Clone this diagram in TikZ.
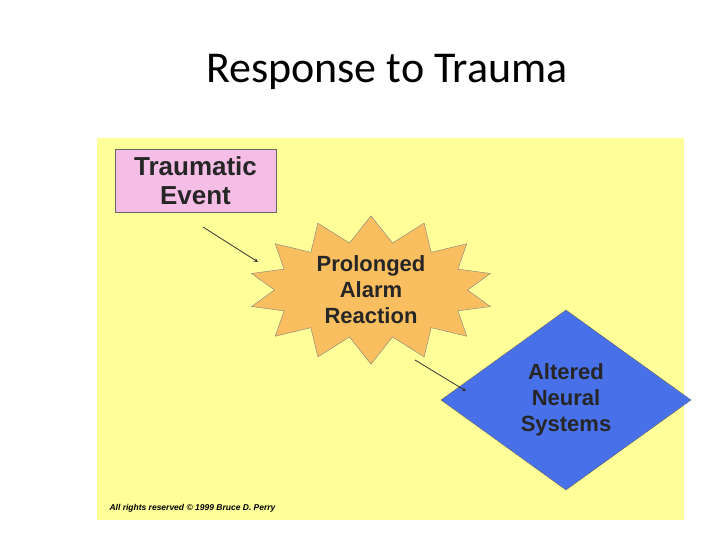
\documentclass[tikz,border=0pt]{standalone}
\usepackage{fontspec}
\setmainfont{Liberation Sans}
\newfontfamily\titlefont{Carlito}
\usetikzlibrary{shapes.geometric,shapes.symbols,arrows}
\definecolor{panel}{RGB}{255,255,153}
\definecolor{pinkbox}{RGB}{245,190,230}
\definecolor{alarm}{RGB}{248,190,95}
\definecolor{neural}{RGB}{72,112,232}
\tikzset{
  lbl/.style={font=\bfseries\fontsize{22}{26}\selectfont, text=black!85, align=center},
  link/.style={->, >=stealth, thick, black!80}
}
\begin{document}
\begin{tikzpicture}[x=1pt, y=-1pt]
        \useasboundingbox (0, 0) rectangle (720, 540);
        \node (title) at (387, 72) {\titlefont\fontsize{44}{50}\selectfont Response to Trauma};
        \fill[panel] (97, 138) rectangle (684, 520);

        % boxes
        \node[lbl, draw=black!60, fill=pinkbox, minimum width=161pt, minimum height=63pt,
            font=\bfseries\fontsize{26}{29}\selectfont] (event) at (195.5, 180.5) {Traumatic\\Event};
        \node[lbl, starburst, starburst points=14, random starburst=0, starburst point height=26pt,
            fill=alarm, draw=black!50, minimum width=245pt, minimum height=128pt, inner sep=0pt] (alarm) at (371, 290)
            {Prolonged\\Alarm\\Reaction};
        \node[lbl, diamond, fill=neural, draw=black!60, minimum width=250pt, minimum height=180pt,
            inner sep=0pt] (neuralsys) at (566, 400) {Altered\\Neural\\Systems};

        % arrows
        \coordinate (a1) at (203, 227);
        \coordinate (a2) at (415, 360);
        \draw[link] (a1) -- (258, 262);
        \draw[link] (a2) -- (466, 391);

        \node[anchor=west, font=\bfseries\itshape\fontsize{8.5}{10}\selectfont] (rights) at (106, 508)
            {All rights reserved \textcopyright\ 1999 Bruce D. Perry};
\end{tikzpicture}
\end{document}
